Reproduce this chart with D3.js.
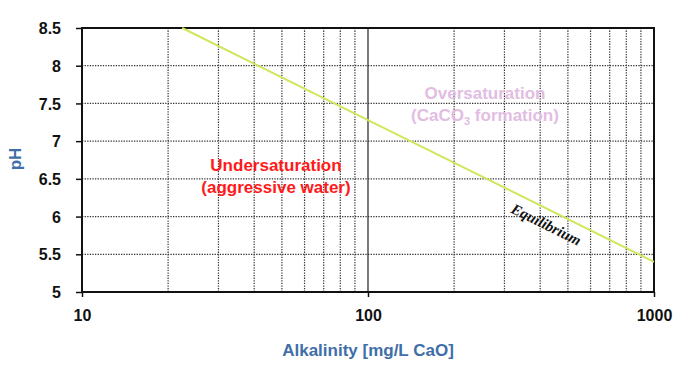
<!DOCTYPE html>
<html>
<head>
<meta charset="utf-8">
<script src="https://cdn.jsdelivr.net/npm/d3@7"></script>
<style>
  body { margin: 0; background: #fff; }
  svg { display: block; font-family: Arial, "Liberation Sans", sans-serif; }
</style>
</head>
<body>
<div id="chart"></div>
<script>
// Equilibrium line (alkalinity, pH)
const alkalinity = [22.4, 100, 1000]
const equilibriumPH = [8.5, 7.28, 5.4]

const xTicks = [10, 100, 1000]
const yTicks = [5, 5.5, 6, 6.5, 7, 7.5, 8, 8.5]

const width = 690
const height = 367
const margin = { top: 28, right: 36, bottom: 75, left: 82 }

const svg = d3.select("#chart")
  .append("svg")
  .attr("width", width)
  .attr("height", height)

// scales
const x = d3.scaleLog()
  .domain([10, 1000])
  .range([margin.left, width - margin.right])

const y = d3.scaleLinear()
  .domain([5, 8.5])
  .range([height - margin.bottom, margin.top])

const plotTop = margin.top
const plotBottom = height - margin.bottom
const plotLeft = margin.left
const plotRight = width - margin.right

// minor vertical gridlines (dotted)
const minor = []
for (let d = 10; d < 1000; d *= 10) {
  for (let k = 2; k <= 9; k++) minor.push(d * k)
}
svg.append("g")
  .selectAll("line")
  .data(minor)
  .join("line")
  .attr("x1", d => x(d))
  .attr("x2", d => x(d))
  .attr("y1", plotTop)
  .attr("y2", plotBottom)
  .attr("stroke", "#333")
  .attr("stroke-width", 1.2)
  .attr("stroke-dasharray", "1.3,1.3")

// horizontal gridlines (dotted)
svg.append("g")
  .selectAll("line")
  .data(yTicks.filter(d => d > 5 && d < 8.5))
  .join("line")
  .attr("x1", plotLeft)
  .attr("x2", plotRight)
  .attr("y1", d => y(d))
  .attr("y2", d => y(d))
  .attr("stroke", "#333")
  .attr("stroke-width", 1.2)
  .attr("stroke-dasharray", "1.3,1.3")

// major gridline at 100
svg.append("line")
  .attr("x1", x(100)).attr("x2", x(100))
  .attr("y1", plotTop).attr("y2", plotBottom)
  .attr("stroke", "#333")
  .attr("stroke-width", 1.3)

// frame
svg.append("rect")
  .attr("x", plotLeft)
  .attr("y", plotTop)
  .attr("width", plotRight - plotLeft)
  .attr("height", plotBottom - plotTop)
  .attr("fill", "none")
  .attr("stroke", "#111")
  .attr("stroke-width", 2)

// axes
const xAxis = svg.append("g")
  .attr("transform", `translate(0,${plotBottom})`)
  .call(d3.axisBottom(x).tickValues(xTicks).tickFormat(d3.format("d")).tickSize(5).tickPadding(13))
const yAxis = svg.append("g")
  .attr("transform", `translate(${plotLeft},0)`)
  .call(d3.axisLeft(y).tickValues(yTicks).tickFormat(d => d).tickSize(6).tickPadding(15))

for (const ax of [xAxis, yAxis]) {
  ax.select(".domain").remove()
  ax.selectAll(".tick line").attr("stroke", "#111").attr("stroke-width", 1.5)
  ax.selectAll(".tick text")
    .attr("fill", "#111")
    .attr("font-size", 16)
    .attr("font-weight", "bold")
    .attr("font-family", "Arial, 'Liberation Sans', sans-serif")
}
yAxis.selectAll(".tick text").attr("dy", "0.35em")

// equilibrium line
const pts = alkalinity.map((a, i) => [a, equilibriumPH[i]])
svg.append("path")
  .datum(pts)
  .attr("fill", "none")
  .attr("stroke", "#d2e55c")
  .attr("stroke-width", 2)
  .attr("d", d3.line().x(d => x(d[0])).y(d => y(d[1])))

// region labels
const under = svg.append("text")
  .attr("text-anchor", "middle")
  .attr("fill", "#ff1a1a")
  .attr("font-size", 17)
  .attr("font-weight", "bold")
under.append("tspan").attr("x", 276).attr("y", 171).text("Undersaturation")
under.append("tspan").attr("x", 276).attr("y", 193).text("(aggressive water)")

const over = svg.append("text")
  .attr("text-anchor", "middle")
  .attr("fill", "#e2bde2")
  .attr("font-size", 17)
  .attr("font-weight", "bold")
over.append("tspan").attr("x", 485).attr("y", 99).text("Oversaturation")
const l2 = over.append("tspan").attr("x", 485).attr("y", 121)
l2.append("tspan").text("(CaCO")
l2.append("tspan").attr("font-size", 11).attr("dy", 4).text("3")
l2.append("tspan").attr("dy", -4).text(" formation)")

// equilibrium label rotated along the line
const angle = Math.atan2(y(5.4) - y(8.5), x(1000) - x(22.4)) * 180 / Math.PI
svg.append("text")
  .attr("transform", `translate(544,229) rotate(${angle})`)
  .attr("text-anchor", "middle")
  .attr("fill", "#111")
  .attr("font-family", "'Liberation Serif', 'DejaVu Serif', serif")
  .attr("font-style", "italic")
  .attr("font-weight", "bold")
  .attr("font-size", 15)
  .text("Equilibrium")

// axis titles
svg.append("text")
  .attr("x", x(100))
  .attr("y", 356)
  .attr("text-anchor", "middle")
  .attr("fill", "#3f6ea8")
  .attr("font-size", 17)
  .attr("font-weight", "bold")
  .text("Alkalinity [mg/L CaO]")

svg.append("text")
  .attr("transform", "translate(21,159) rotate(-90)")
  .attr("text-anchor", "middle")
  .attr("fill", "#3f6ea8")
  .attr("font-size", 17)
  .attr("font-weight", "bold")
  .text("pH")
</script>
</body>
</html>
